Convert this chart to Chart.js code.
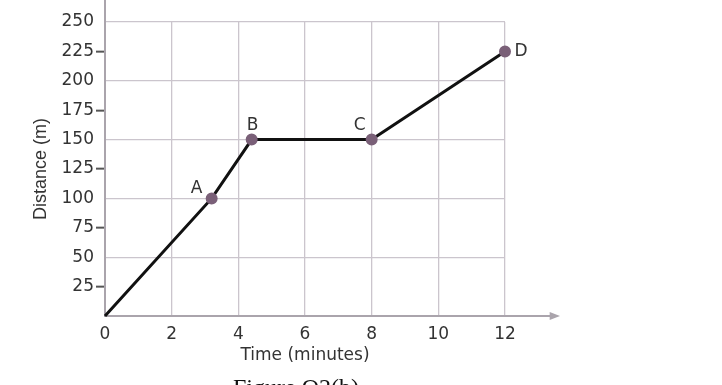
<!DOCTYPE html>
<html>
<head>
<meta charset="utf-8">
<script src="https://cdn.jsdelivr.net/npm/chart.js@4.4.1/dist/chart.umd.min.js"></script>
<style>
  html, body { margin: 0; padding: 0; background: #ffffff; }
  #wrap { width: 722px; height: 385px; position: relative; }
</style>
</head>
<body>
<div id="wrap"><canvas id="c" width="722" height="385"></canvas></div>
<script>
// ---- data ----
const timeMinutes    = [0, 3.2, 4.4, 8, 12];
const distanceMetres = [0, 100, 150, 150, 225];
const pointNames     = ['', 'A', 'B', 'C', 'D'];
const xTickStep = 2;   // 0,2,4,...,12
const yTickStep = 25;  // 25,50,...,250
const xMax = 12;
const yMax = 250;
const xAxisTitle = 'Time (minutes)';
const yAxisTitle = 'Distance (m)';
const captionText = 'Figure Q2(b)';

// label placement relative to each point (styling, not data)
const labelOffsets = { A: [-15, -10], B: [1, -14], C: [-12, -14], D: [16, 0] };

const gridColor = '#cbc5cd';
const axisColor = '#aaa4ac';
const textColor = '#333333';
const tickFont = { family: 'DejaVu Sans', size: 17 };

const points = timeMinutes.map((t, i) => ({ x: t, y: distanceMetres[i] }));

const decorPlugin = {
  id: 'decor',
  afterDraw(chart) {
    const ctx = chart.ctx;
    const xs = chart.scales.x, ys = chart.scales.y;
    const y0 = ys.getPixelForValue(0);
    const x0 = xs.getPixelForValue(0);
    ctx.save();
    // x-axis extension with arrow
    const lineEnd = xs.getPixelForValue(13.4);
    const tip = xs.getPixelForValue(13.65);
    ctx.strokeStyle = axisColor;
    ctx.lineWidth = 2;
    ctx.beginPath();
    ctx.moveTo(xs.right, y0);
    ctx.lineTo(lineEnd, y0);
    ctx.stroke();
    ctx.fillStyle = axisColor;
    ctx.beginPath();
    ctx.moveTo(tip, y0);
    ctx.lineTo(lineEnd - 2, y0 - 4);
    ctx.lineTo(lineEnd - 2, y0 + 4);
    ctx.closePath();
    ctx.fill();
    // y-axis extension upward
    ctx.beginPath();
    ctx.moveTo(x0, chart.chartArea.top);
    ctx.lineTo(x0, 0);
    ctx.stroke();
    // point labels
    const meta = chart.getDatasetMeta(0);
    ctx.fillStyle = textColor;
    ctx.font = '17px "DejaVu Sans"';
    ctx.textAlign = 'center';
    ctx.textBaseline = 'middle';
    meta.data.forEach((el, i) => {
      const name = pointNames[i];
      if (!name) return;
      const off = labelOffsets[name] || [0, -14];
      ctx.fillText(name, el.x + off[0], el.y + off[1]);
    });
    // caption (cut off at bottom in reference)
    ctx.fillStyle = '#111';
    ctx.font = '24px "Liberation Serif"';
    ctx.textAlign = 'left';
    ctx.textBaseline = 'alphabetic';
    ctx.fillText(captionText, 233, 395);
    ctx.restore();
  }
};

new Chart(document.getElementById('c'), {
  type: 'scatter',
  data: {
    datasets: [{
      data: points,
      showLine: true,
      borderColor: '#111111',
      borderWidth: 3,
      backgroundColor: '#7a6078',
      pointBackgroundColor: '#7a6078',
      pointBorderColor: '#7a6078',
      pointRadius: ctx => (pointNames[ctx.dataIndex] ? 4.5 : 0),
      pointHoverRadius: ctx => (pointNames[ctx.dataIndex] ? 4.5 : 0),
      clip: false,
      tension: 0
    }]
  },
  options: {
    responsive: false,
    animation: false,
    events: [],
    layout: { padding: { left: 0, right: 217, top: 22, bottom: 0 } },
    plugins: { legend: { display: false }, tooltip: { enabled: false }, title: { display: false } },
    scales: {
      x: {
        type: 'linear',
        position: 'bottom',
        min: 0,
        max: xMax,
        afterFit(scale) { scale.height = 69; },
        ticks: { stepSize: xTickStep, font: tickFont, color: textColor, padding: 8, maxRotation: 0 },
        grid: { color: gridColor, lineWidth: 1.3, drawTicks: false },
        border: { color: axisColor, width: 2 },
        title: {
          display: true,
          text: xAxisTitle,
          font: { family: 'DejaVu Sans', size: 17 },
          color: textColor,
          padding: { top: 0, bottom: 19 }
        }
      },
      y: {
        type: 'linear',
        position: 'left',
        min: 0,
        max: yMax,
        afterFit(scale) { scale.width = 105; },
        ticks: {
          stepSize: yTickStep,
          font: tickFont,
          color: textColor,
          padding: 2,
          callback: v => (v === 0 ? '' : v)
        },
        grid: {
          color: ctx => (ctx.tick && ctx.tick.value % 50 === 0 ? gridColor : 'rgba(0,0,0,0)'),
          lineWidth: 1.3,
          drawTicks: true,
          tickLength: 9,
          tickWidth: 2,
          tickColor: ctx => (ctx.tick && ctx.tick.value % 50 !== 0 ? '#555555' : 'rgba(0,0,0,0)')
        },
        border: { color: axisColor, width: 2 },
        title: {
          display: true,
          text: yAxisTitle,
          font: { family: 'Liberation Sans', size: 18 },
          color: textColor,
          padding: { top: 30, bottom: 0 }
        }
      }
    }
  },
  plugins: [decorPlugin]
});
</script>
</body>
</html>
